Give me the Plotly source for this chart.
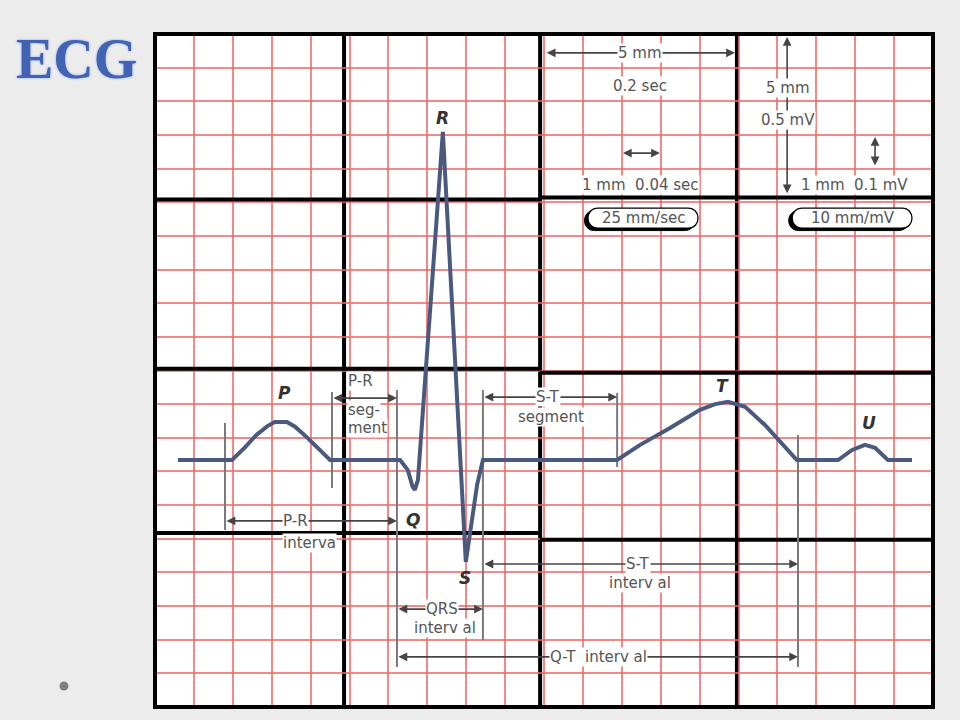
import plotly.graph_objects as go

# ---------------- data (grid units: 1 small square = 1 mm = 0.04 s horizontally, 0.1 mV vertically)
ecg_x_mm = [0.59, 1.98, 2.30, 2.60, 2.88, 3.08, 3.39, 3.60, 3.90, 4.20, 4.50, 6.30, 6.50, 6.62, 6.68, 6.76,
            7.40, 7.99, 8.28, 8.43, 11.88, 12.47, 13.24, 14.01, 14.40, 14.73, 15.17, 15.68,
            16.20, 16.50, 17.56, 17.92, 18.25, 18.51, 18.84, 19.46]
ecg_y_mm = [7.34, 7.34, 7.70, 8.08, 8.34, 8.47, 8.47, 8.33, 8.02, 7.68, 7.34, 7.34, 7.04, 6.55, 6.45, 6.75,
            17.09, 4.31, 6.60, 7.34, 7.34, 7.79, 8.29, 8.83, 9.00, 9.07, 8.92, 8.38,
            7.70, 7.34, 7.34, 7.64, 7.79, 7.70, 7.34, 7.34]

wave_names = ["P", "Q", "R", "S", "T", "U"]
wave_label_x = [3.32, 6.63, 7.40, 7.97, 14.58, 18.35]
wave_label_y = [9.33, 5.56, 17.50, 3.83, 9.54, 8.44]

# interval landmarks (mm along the time axis)
p_onset, p_offset, qrs_onset, qrs_offset, st_end, t_end = 1.80, 4.55, 6.22, 8.43, 11.88, 16.53

PX_X, PX_Y = 38.9, 33.65   # pixels per mm in the rendered grid

fig = go.Figure()
fig.add_trace(go.Scatter(x=ecg_x_mm, y=ecg_y_mm, mode="lines",
                         line=dict(color="#4a5a7e", width=4), showlegend=False,
                         hoverinfo="skip"))

shapes = []
# thick big-square lines
for xv in [4.86, 9.90, 14.96]:
    shapes.append(dict(type="line", xref="x", yref="paper", x0=xv, x1=xv, y0=0, y1=1,
                       line=dict(color="black", width=4), layer="between"))
for yv in [15.08, 10.05, 5.17]:
    shapes.append(dict(type="line", xref="x", yref="y", x0=0, x1=9.90, y0=yv, y1=yv,
                       line=dict(color="black", width=4), layer="between"))
for yv in [15.14, 9.93, 4.97]:
    shapes.append(dict(type="line", xref="x", yref="y", x0=9.90, x1=20, y0=yv, y1=yv,
                       line=dict(color="black", width=4), layer="between"))
shapes.append(dict(type="rect", xref="paper", yref="paper", x0=0, x1=1, y0=0, y1=1,
                   line=dict(color="black", width=4), layer="above"))

# grey limit lines of the intervals
def vline(x, y0, y1):
    shapes.append(dict(type="line", xref="x", yref="y", x0=x, x1=x, y0=y0, y1=y1,
                       line=dict(color="#7a7a7a", width=2), layer="between"))

vline(p_onset, 5.26, 8.44)
vline(p_offset, 6.51, 9.36)
vline(qrs_onset, 1.19, 9.42)
vline(qrs_offset, 1.99, 9.42)
vline(st_end, 7.13, 9.33)
vline(t_end, 1.19, 8.08)

# rounded "pill" labels
def stadium(x0, x1, yc, rpx, dx=0.0, dy=0.0):
    rx, ry, k = rpx / PX_X, rpx / PX_Y, 4 / 3
    x0, x1, yc = x0 + dx, x1 + dx, yc + dy
    xl, xr, yt, yb = x0 + rx, x1 - rx, yc + ry, yc - ry
    return (f"M {xl},{yt} L {xr},{yt} C {xr + k * rx},{yt} {xr + k * rx},{yb} {xr},{yb} "
            f"L {xl},{yb} C {xl - k * rx},{yb} {xl - k * rx},{yt} {xl},{yt} Z")

for (a, b) in [(11.13, 13.96), (16.38, 19.46)]:
    shapes.append(dict(type="path", xref="x", yref="y",
                       path=stadium(a, b, 14.53, 10, dx=-3.5 / PX_X, dy=-2.5 / PX_Y),
                       fillcolor="black", line=dict(color="black", width=1), layer="above"))
    shapes.append(dict(type="path", xref="x", yref="y", path=stadium(a, b, 14.53, 10),
                       fillcolor="white", line=dict(color="black", width=1.3), layer="above"))

# bullet at bottom-left of the slide
shapes.append(dict(type="circle", xref="paper", yref="paper",
                   x0=-0.117 - 0.0058, x1=-0.117 + 0.0058, y0=0.0312 - 0.0067, y1=0.0312 + 0.0067,
                   fillcolor="#808080", line=dict(width=0)))

annotations = []

def arrow(x0, y0, x1, y1, both=True):
    annotations.append(dict(x=x1, y=y1, ax=x0, ay=y0, xref="x", yref="y", axref="x", ayref="y",
                            text="", showarrow=True, arrowhead=2, arrowsize=1.1, arrowwidth=1.6,
                            arrowcolor="#454545", arrowside="end+start" if both else "end",
                            startarrowhead=2, startarrowsize=1.1, standoff=0, startstandoff=0))

TXT = dict(family="DejaVu Sans", size=15, color="#555555")

def label(x, y, text, bg="white", xanchor="center", font=None):
    annotations.append(dict(x=x, y=y, xref="x", yref="y", text=text, showarrow=False,
                            xanchor=xanchor, yanchor="middle", bgcolor=bg, borderpad=0,
                            font=font or TXT))

# interval arrows
arrow(p_onset, 5.53, qrs_onset, 5.53)
arrow(p_offset, 9.18, qrs_onset, 9.18)
arrow(qrs_offset, 9.21, st_end, 9.21)
arrow(qrs_offset, 4.25, t_end, 4.25)
arrow(qrs_onset, 2.91, qrs_offset, 2.91)
arrow(qrs_onset, 1.49, t_end, 1.49)
# calibration arrows
arrow(10.03, 19.44, 14.91, 19.44)
arrow(11.99, 16.46, 12.98, 16.46)
arrow(16.25, 15.22, 16.25, 19.91)
arrow(18.51, 16.05, 18.51, 16.94)

# interval texts
label(3.60, 5.53, "P-R")
label(3.98, 4.87, "interva")
label(4.93, 9.68, "P-R", xanchor="left")
label(4.93, 8.84, "seg-", xanchor="left")
label(4.93, 8.28, "ment", xanchor="left")
label(10.10, 9.21, "S-T")
label(10.18, 8.62, "segment")
label(12.42, 4.25, "S-T")
label(12.47, 3.68, "interv al")
label(7.38, 2.91, "QRS")
label(7.46, 2.34, "interv al")
label(11.41, 1.49, "Q-T  interv al")
# calibration texts
label(12.47, 19.44, "5 mm")
label(12.47, 18.45, "0.2 sec")
label(12.47, 15.51, "1 mm  0.04 sec")
label(16.27, 18.40, "5 mm")
label(16.27, 17.44, "0.5 mV")
label(17.97, 15.51, "1 mm  0.1 mV")
label(12.55, 14.53, "25 mm/sec", bg="rgba(0,0,0,0)")
label(17.95, 14.53, "10 mm/mV", bg="rgba(0,0,0,0)")

# wave names
WFONT = dict(family="DejaVu Sans", size=17, color="#333333")
for n, wx, wy in zip(wave_names, wave_label_x, wave_label_y):
    label(wx, wy, f"<b><i>{n}</i></b>", bg="rgba(0,0,0,0)", font=WFONT)

# slide title
annotations.append(dict(x=-0.1015, y=0.963, xref="paper", yref="paper", text="<b>ECG</b>",
                        showarrow=False, xanchor="center", yanchor="middle",
                        font=dict(family="Liberation Serif", size=56, color="#4262b4",
                                  shadow="0px 0px 2px #9fb5ec, 0px 0px 3px #b8c9f2")))

grid = dict(range=[0, 20], showgrid=True, tick0=0, dtick=1, gridcolor="rgba(238,104,104,0.78)",
            gridwidth=2, showticklabels=False, zeroline=False, showline=False, ticks="",
            fixedrange=True)

fig.update_layout(
    width=960, height=720,
    margin=dict(l=155, r=27, t=34, b=13),
    paper_bgcolor="#ececec", plot_bgcolor="white",
    xaxis=grid, yaxis=grid,
    shapes=shapes, annotations=annotations,
    showlegend=False,
)

fig.write_html("out.html", config={"displayModeBar": False},
               post_script="document.body.style.margin='0';document.body.style.background='#ececec';")
